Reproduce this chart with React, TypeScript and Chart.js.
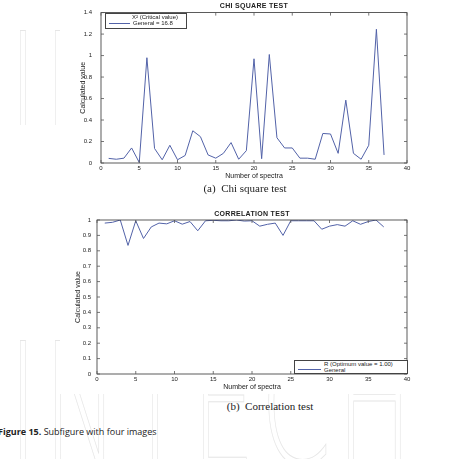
import React, { useEffect, useRef } from "react";
import { Chart, registerables } from "chart.js";

Chart.register(...registerables);

const spectra = [1,2,3,4,5,6,7,8,9,10,11,12,13,14,15,16,17,18,19,20,21,22,23,24,25,26,27,28,29,30,31,32,33,34,35,36,37];
const chiValues = [0.043,0.035,0.045,0.14,0.005,0.98,0.135,0.03,0.165,0.03,0.07,0.3,0.245,0.075,0.045,0.09,0.19,0.035,0.115,0.97,0.04,1.01,0.235,0.14,0.14,0.045,0.045,0.035,0.275,0.27,0.09,0.585,0.09,0.035,0.165,1.245,0.075];
const corrValues = [0.98,0.985,1.0,0.835,0.995,0.88,0.955,0.98,0.975,0.995,0.973,0.99,0.93,0.995,0.998,0.995,0.995,1.0,0.993,0.995,0.96,0.972,0.98,0.9,0.995,0.995,0.995,0.995,0.94,0.96,0.97,0.96,0.995,0.972,0.99,1.0,0.955];
const chiTitle = "CHI SQUARE TEST";
const corrTitle = "CORRELATION TEST";
const xAxisTitle = "Number of spectra";
const yAxisTitle = "Calculated value";
const chiLegend = ["X\u00B2 (Critical value)", "General = 16.8"];
const corrLegend = ["R (Optimum value = 1.00)", "General"];
const chiCaption = "(a)  Chi square test";
const corrCaption = "(b)  Correlation test";

const LINE = "#5262a8";
const TICKFONT = { family: "'Liberation Sans', Arial, sans-serif", size: 6 };

const boxPlugin = {
  id: "matlabBox",
  afterDraw(chart: any) {
    const { ctx, chartArea: a, scales } = chart;
    ctx.save();
    ctx.strokeStyle = "#333";
    ctx.lineWidth = 0.8;
    ctx.strokeRect(a.left, a.top, a.right - a.left, a.bottom - a.top);
    ctx.strokeStyle = "#555";
    const L = 3;
    scales.x.ticks.forEach((t: any) => {
      const px = scales.x.getPixelForValue(t.value);
      ctx.beginPath();
      ctx.moveTo(px, a.bottom); ctx.lineTo(px, a.bottom - L);
      ctx.moveTo(px, a.top); ctx.lineTo(px, a.top + L);
      ctx.stroke();
    });
    scales.y.ticks.forEach((t: any) => {
      const py = scales.y.getPixelForValue(t.value);
      ctx.beginPath();
      ctx.moveTo(a.left, py); ctx.lineTo(a.left + L, py);
      ctx.moveTo(a.right, py); ctx.lineTo(a.right - L, py);
      ctx.stroke();
    });
    ctx.restore();
  },
};

function makeChart(canvas: HTMLCanvasElement, values: number[], ymax: number, ystep: number, yWidth: number, yTitlePad: number, xHeight: number, xTitlePad: number, tickPad: number) {
  return new Chart(canvas, {
    type: "line",
    data: {
      datasets: [
        {
          data: spectra.map((s, i) => ({ x: s, y: values[i] })),
          borderColor: LINE,
          borderWidth: 1,
          pointRadius: 0,
          tension: 0,
        },
      ],
    },
    options: {
      animation: false,
      responsive: false,
      maintainAspectRatio: false,
      layout: { padding: { top: 12, right: 13, left: 0, bottom: 0 } },
      plugins: { legend: { display: false }, tooltip: { enabled: false } },
      scales: {
        x: {
          type: "linear",
          min: 0,
          max: 40,
          ticks: { stepSize: 5, font: TICKFONT, color: "#222", padding: 2, maxRotation: 0 },
          grid: { display: false, drawTicks: false },
          border: { display: false },
          title: { display: true, text: xAxisTitle, font: { family: "'Liberation Sans', Arial, sans-serif", size: 7 }, color: "#222", padding: { top: 0, bottom: xTitlePad } },
          afterFit: (s: any) => { s.height = xHeight; },
        },
        y: {
          min: 0,
          max: ymax,
          ticks: { stepSize: ystep, font: TICKFONT, color: "#222", padding: tickPad, callback: (v: any) => String(Number(Number(v).toFixed(2))) },
          grid: { display: false, drawTicks: false },
          border: { display: false },
          title: { display: true, text: yAxisTitle, font: { family: "'Liberation Sans', Arial, sans-serif", size: 7 }, color: "#222", padding: { top: yTitlePad, bottom: 0 } },
          afterFit: (s: any) => { s.width = yWidth; },
        },
      },
    },
    plugins: [boxPlugin],
  } as any);
}

const sans = "'Liberation Sans', Arial, sans-serif";

function Legend({ left, top, width, height, labels, textLeft1, textLeft2, lineTop, line2Top }: any) {
  return (
    <div style={{ position: "absolute", left, top, width, height, border: "0.8px solid #444", background: "#fff", boxSizing: "border-box", fontFamily: sans, fontSize: 6, color: "#222" }}>
      <div style={{ position: "absolute", left: textLeft1, top: 0, lineHeight: "7px", whiteSpace: "nowrap" }}>{labels[0]}</div>
      <div style={{ position: "absolute", left: 3, top: lineTop, width: textLeft2 - 6, height: 0, borderTop: `1px solid ${LINE}` }} />
      <div style={{ position: "absolute", left: textLeft2, top: line2Top, lineHeight: "7px", whiteSpace: "nowrap" }}>{labels[1]}</div>
    </div>
  );
}

export default function App() {
  const r1 = useRef<HTMLCanvasElement>(null);
  const r2 = useRef<HTMLCanvasElement>(null);
  useEffect(() => {
    const c1 = makeChart(r1.current!, chiValues, 1.4, 0.2, 41, 19, 21, 4, 9);
    const c2 = makeChart(r2.current!, corrValues, 1, 0.1, 37, 14, 20, 3, 6);
    return () => { c1.destroy(); c2.destroy(); };
  }, []);

  const wm: React.CSSProperties = {
    position: "absolute", left: 0, width: 474, overflow: "hidden", pointerEvents: "none",
  };
  const wmText: React.CSSProperties = {
    position: "absolute", left: 8, fontFamily: "'DejaVu Sans', sans-serif", fontWeight: 200, fontSize: 170,
    color: "transparent", WebkitTextStroke: "1px #e6e6e6", transform: "scaleX(0.6)", transformOrigin: "left top",
    whiteSpace: "nowrap", lineHeight: 1, letterSpacing: 8,
  } as any;

  return (
    <div style={{ position: "fixed", left: 0, top: 0, width: 474, height: 459, background: "#fff", overflow: "hidden" }}>
      <div style={{ ...wm, top: 25, height: 100 }}>
        <div style={{ ...wmText, top: -15 }}>INTECH</div>
      </div>
      <div style={{ ...wm, top: 335, height: 124 }}>
        <div style={{ ...wmText, top: -15 }}>INTECH</div>
      </div>

      <div style={{ position: "absolute", left: 60, top: 0, width: 362, height: 184, background: "#fff" }}>
        <canvas ref={r1} width={360} height={184} style={{ display: "block" }} />
      </div>
      <div style={{ position: "absolute", left: 101, top: 0, width: 306, textAlign: "center", fontFamily: sans, fontWeight: "bold", fontSize: 7, lineHeight: "11px", letterSpacing: 0.3, color: "#222" }}>{chiTitle}</div>
      <Legend left={105} top={13} width={82} height={16} labels={chiLegend} textLeft1={26} textLeft2={27} lineTop={9} line2Top={6} />
      <div style={{ position: "absolute", left: 0, top: 180, width: 490, textAlign: "center", fontFamily: "'Liberation Serif', 'DejaVu Serif', serif", fontSize: 11, lineHeight: "16px", color: "#222", whiteSpace: "pre" }}>{chiCaption}</div>

      <div style={{ position: "absolute", left: 60, top: 208, width: 362, height: 186, background: "#fff" }}>
        <canvas ref={r2} width={360} height={186} style={{ display: "block" }} />
      </div>
      <div style={{ position: "absolute", left: 97, top: 208, width: 310, textAlign: "center", fontFamily: sans, fontWeight: "bold", fontSize: 7, lineHeight: "12px", letterSpacing: 0.3, color: "#222" }}>{corrTitle}</div>
      <Legend left={294} top={360} width={114} height={14} labels={corrLegend} textLeft1={29} textLeft2={29} lineTop={8} line2Top={5.5} />
      <div style={{ position: "absolute", left: 0, top: 398, width: 540, textAlign: "center", fontFamily: "'Liberation Serif', 'DejaVu Serif', serif", fontSize: 11, lineHeight: "16px", color: "#222", whiteSpace: "pre" }}>{corrCaption}</div>

      <div style={{ position: "absolute", left: -2, top: 426, fontFamily: "'Open Sans', sans-serif", fontSize: 9, lineHeight: "12px", color: "#222", whiteSpace: "nowrap" }}>
        <b>Figure 15.</b> Subfigure with four images
      </div>
    </div>
  );
}
